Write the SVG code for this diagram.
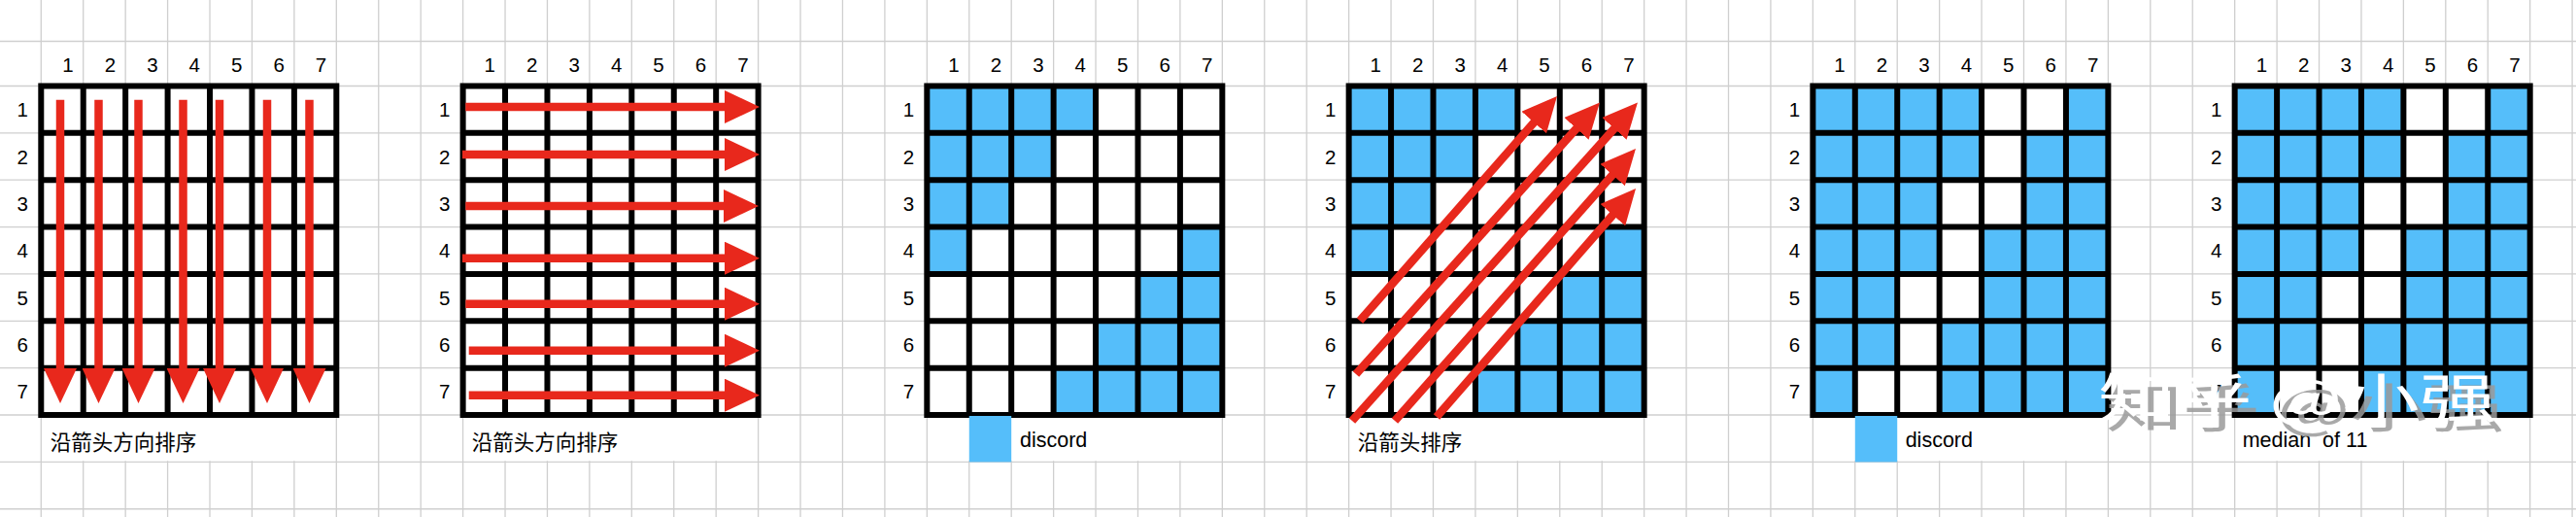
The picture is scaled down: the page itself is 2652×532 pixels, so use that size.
<svg xmlns="http://www.w3.org/2000/svg" xmlns:xlink="http://www.w3.org/1999/xlink" width="2652" height="532" viewBox="0 0 2652 532">
<style>
.bg{stroke:#cfcfcf;stroke-width:1.3;fill:none}
.frame{stroke:#000;stroke-width:6;fill:none;stroke-linecap:square}
.blue{fill:#55BEFA}
.white{fill:#fff}
.num{font-family:"Liberation Sans",Arial,sans-serif;font-size:20.5px;fill:#000;text-anchor:middle}
.lbl{font-family:"Liberation Sans","Noto Sans CJK SC",sans-serif;font-size:21.5px;fill:#000}
.en{font-family:"Liberation Sans",Arial,sans-serif;font-size:21.5px;fill:#000;white-space:pre}
.arr{stroke:#E8281C;stroke-width:8.5;fill:none;marker-end:url(#ah)}
.wm{font-family:"Noto Sans CJK SC",sans-serif;font-size:54px;fill:#fff;filter:url(#sh)}
</style>
<defs>
<marker id="ah" markerUnits="userSpaceOnUse" markerWidth="36" markerHeight="34" viewBox="0 0 36 34" refX="16" refY="17" orient="auto">
<path d="M0 0L36 17L0 34z" fill="#E8281C"/>
</marker>
<filter id="sh" x="-10%" y="-30%" width="130%" height="170%">
<feDropShadow dx="8" dy="10" stdDeviation="0.6" flood-color="#9a9a9a" flood-opacity="0.85"/>
</filter>
<path id="frame" class="frame" d="M0 88.5V427.02M43.43 88.5V427.02M86.86 88.5V427.02M130.29 88.5V427.02M173.72 88.5V427.02M217.15 88.5V427.02M260.58 88.5V427.02M304.01 88.5V427.02M0 88.5H304.01M0 136.86H304.01M0 185.22H304.01M0 233.58H304.01M0 281.94H304.01M0 330.3H304.01M0 378.66H304.01M0 427.02H304.01"/>
<rect id="box" class="white" x="1.2" y="430" width="301.6" height="44.2"/>
</defs>

<g id="background">
<rect width="2652" height="532" fill="#fff"/>
<path class="bg" d="M42.3 0V532M85.73 0V532M129.16 0V532M172.59 0V532M216.02 0V532M259.45 0V532M302.88 0V532M346.31 0V532M389.74 0V532M433.17 0V532M476.6 0V532M520.03 0V532M563.46 0V532M606.89 0V532M650.32 0V532M693.75 0V532M737.18 0V532M780.61 0V532M824.04 0V532M867.47 0V532M910.9 0V532M954.33 0V532M997.76 0V532M1041.19 0V532M1084.62 0V532M1128.05 0V532M1171.48 0V532M1214.91 0V532M1258.34 0V532M1301.77 0V532M1345.2 0V532M1388.63 0V532M1432.06 0V532M1475.49 0V532M1518.92 0V532M1562.35 0V532M1605.78 0V532M1649.21 0V532M1692.64 0V532M1736.07 0V532M1779.5 0V532M1822.93 0V532M1866.36 0V532M1909.79 0V532M1953.22 0V532M1996.65 0V532M2040.08 0V532M2083.51 0V532M2126.94 0V532M2170.37 0V532M2213.8 0V532M2257.23 0V532M2300.66 0V532M2344.09 0V532M2387.52 0V532M2430.95 0V532M2474.38 0V532M2517.81 0V532M2561.24 0V532M2604.67 0V532M2648.1 0V532M0 42.5H2652M0 88.5H2652M0 136.86H2652M0 185.22H2652M0 233.58H2652M0 281.94H2652M0 330.3H2652M0 378.66H2652M0 427.02H2652M0 475.38H2652M0 523.74H2652"/>
</g>

<g id="grid1" transform="translate(42.3,0)">
<use xlink:href="#box" href="#box"/>
<rect class="white" x="0" y="88.5" width="304.01" height="338.52"/>
<use xlink:href="#frame" href="#frame"/>
<text class="num" x="27.7" y="74">1</text><text class="num" x="71.13" y="74">2</text><text class="num" x="114.56" y="74">3</text><text class="num" x="157.99" y="74">4</text><text class="num" x="201.42" y="74">5</text><text class="num" x="244.85" y="74">6</text><text class="num" x="288.28" y="74">7</text>
<text class="num" x="-19" y="120.2">1</text><text class="num" x="-19" y="168.5">2</text><text class="num" x="-19" y="216.9">3</text><text class="num" x="-19" y="265.3">4</text><text class="num" x="-19" y="313.6">5</text><text class="num" x="-19" y="362">6</text><text class="num" x="-19" y="410.3">7</text>
<text class="lbl" x="9.4" y="463">沿箭头方向排序</text>
</g>

<g id="grid2" transform="translate(476.6,0)">
<use xlink:href="#box" href="#box"/>
<rect class="white" x="0" y="88.5" width="304.01" height="338.52"/>
<use xlink:href="#frame" href="#frame"/>
<text class="num" x="27.7" y="74">1</text><text class="num" x="71.13" y="74">2</text><text class="num" x="114.56" y="74">3</text><text class="num" x="157.99" y="74">4</text><text class="num" x="201.42" y="74">5</text><text class="num" x="244.85" y="74">6</text><text class="num" x="288.28" y="74">7</text>
<text class="num" x="-19" y="120.2">1</text><text class="num" x="-19" y="168.5">2</text><text class="num" x="-19" y="216.9">3</text><text class="num" x="-19" y="265.3">4</text><text class="num" x="-19" y="313.6">5</text><text class="num" x="-19" y="362">6</text><text class="num" x="-19" y="410.3">7</text>
<text class="lbl" x="9.1" y="463">沿箭头方向排序</text>
</g>

<g id="grid3" transform="translate(954.33,0)">
<use xlink:href="#box" href="#box"/>
<rect class="white" x="0" y="88.5" width="304.01" height="338.52"/>
<rect class="blue" x="0" y="88.5" width="173.72" height="48.36"/>
<rect class="blue" x="0" y="136.86" width="130.29" height="48.36"/>
<rect class="blue" x="0" y="185.22" width="86.86" height="48.36"/>
<rect class="blue" x="0" y="233.58" width="43.43" height="48.36"/>
<rect class="blue" x="260.58" y="233.58" width="43.43" height="48.36"/>
<rect class="blue" x="217.15" y="281.94" width="86.86" height="48.36"/>
<rect class="blue" x="173.72" y="330.3" width="130.29" height="48.36"/>
<rect class="blue" x="130.29" y="378.66" width="173.72" height="48.36"/>
<use xlink:href="#frame" href="#frame"/>
<text class="num" x="27.7" y="74">1</text><text class="num" x="71.13" y="74">2</text><text class="num" x="114.56" y="74">3</text><text class="num" x="157.99" y="74">4</text><text class="num" x="201.42" y="74">5</text><text class="num" x="244.85" y="74">6</text><text class="num" x="288.28" y="74">7</text>
<text class="num" x="-19" y="120.2">1</text><text class="num" x="-19" y="168.5">2</text><text class="num" x="-19" y="216.9">3</text><text class="num" x="-19" y="265.3">4</text><text class="num" x="-19" y="313.6">5</text><text class="num" x="-19" y="362">6</text><text class="num" x="-19" y="410.3">7</text>
<rect class="blue" x="43.43" y="428" width="43.43" height="47.4"/>
<text class="en" x="95.7" y="460">discord</text>
</g>

<g id="grid4" transform="translate(1388.63,0)">
<use xlink:href="#box" href="#box"/>
<rect class="white" x="0" y="88.5" width="304.01" height="338.52"/>
<rect class="blue" x="0" y="88.5" width="173.72" height="48.36"/>
<rect class="blue" x="0" y="136.86" width="130.29" height="48.36"/>
<rect class="blue" x="0" y="185.22" width="86.86" height="48.36"/>
<rect class="blue" x="0" y="233.58" width="43.43" height="48.36"/>
<rect class="blue" x="260.58" y="233.58" width="43.43" height="48.36"/>
<rect class="blue" x="217.15" y="281.94" width="86.86" height="48.36"/>
<rect class="blue" x="173.72" y="330.3" width="130.29" height="48.36"/>
<rect class="blue" x="130.29" y="378.66" width="173.72" height="48.36"/>
<use xlink:href="#frame" href="#frame"/>
<text class="num" x="27.7" y="74">1</text><text class="num" x="71.13" y="74">2</text><text class="num" x="114.56" y="74">3</text><text class="num" x="157.99" y="74">4</text><text class="num" x="201.42" y="74">5</text><text class="num" x="244.85" y="74">6</text><text class="num" x="288.28" y="74">7</text>
<text class="num" x="-19" y="120.2">1</text><text class="num" x="-19" y="168.5">2</text><text class="num" x="-19" y="216.9">3</text><text class="num" x="-19" y="265.3">4</text><text class="num" x="-19" y="313.6">5</text><text class="num" x="-19" y="362">6</text><text class="num" x="-19" y="410.3">7</text>
<text class="lbl" x="9.1" y="463">沿箭头排序</text>
</g>

<g id="grid5" transform="translate(1866.36,0)">
<use xlink:href="#box" href="#box"/>
<rect class="blue" x="0" y="88.5" width="304.01" height="338.52"/>
<rect class="white" x="173.72" y="88.5" width="86.86" height="48.36"/>
<rect class="white" x="173.72" y="136.86" width="43.43" height="48.36"/>
<rect class="white" x="130.29" y="185.22" width="86.86" height="48.36"/>
<rect class="white" x="130.29" y="233.58" width="43.43" height="48.36"/>
<rect class="white" x="86.86" y="281.94" width="86.86" height="48.36"/>
<rect class="white" x="86.86" y="330.3" width="43.43" height="48.36"/>
<rect class="white" x="43.43" y="378.66" width="86.86" height="48.36"/>
<use xlink:href="#frame" href="#frame"/>
<text class="num" x="27.7" y="74">1</text><text class="num" x="71.13" y="74">2</text><text class="num" x="114.56" y="74">3</text><text class="num" x="157.99" y="74">4</text><text class="num" x="201.42" y="74">5</text><text class="num" x="244.85" y="74">6</text><text class="num" x="288.28" y="74">7</text>
<text class="num" x="-19" y="120.2">1</text><text class="num" x="-19" y="168.5">2</text><text class="num" x="-19" y="216.9">3</text><text class="num" x="-19" y="265.3">4</text><text class="num" x="-19" y="313.6">5</text><text class="num" x="-19" y="362">6</text><text class="num" x="-19" y="410.3">7</text>
<rect class="blue" x="43.43" y="428" width="43.43" height="47.4"/>
<text class="en" x="95.3" y="460">discord</text>
</g>

<g id="grid6" transform="translate(2300.66,0)">
<use xlink:href="#box" href="#box"/>
<rect class="blue" x="0" y="88.5" width="304.01" height="338.52"/>
<rect class="white" x="173.72" y="88.5" width="86.86" height="48.36"/>
<rect class="white" x="173.72" y="136.86" width="43.43" height="48.36"/>
<rect class="white" x="130.29" y="185.22" width="86.86" height="48.36"/>
<rect class="white" x="130.29" y="233.58" width="43.43" height="48.36"/>
<rect class="white" x="86.86" y="281.94" width="86.86" height="48.36"/>
<rect class="white" x="86.86" y="330.3" width="43.43" height="48.36"/>
<rect class="white" x="43.43" y="378.66" width="86.86" height="48.36"/>
<use xlink:href="#frame" href="#frame"/>
<text class="num" x="27.7" y="74">1</text><text class="num" x="71.13" y="74">2</text><text class="num" x="114.56" y="74">3</text><text class="num" x="157.99" y="74">4</text><text class="num" x="201.42" y="74">5</text><text class="num" x="244.85" y="74">6</text><text class="num" x="288.28" y="74">7</text>
<text class="num" x="-19" y="120.2">1</text><text class="num" x="-19" y="168.5">2</text><text class="num" x="-19" y="216.9">3</text><text class="num" x="-19" y="265.3">4</text><text class="num" x="-19" y="313.6">5</text><text class="num" x="-19" y="362">6</text><text class="num" x="-19" y="410.3">7</text>
<text class="en" x="8" y="460">median  of 11</text>
</g>

<g id="arrows">
<path class="arr" d="M62 102.7V395"/>
<path class="arr" d="M101.5 102.7V395"/>
<path class="arr" d="M142.5 102.7V395"/>
<path class="arr" d="M188.5 102.7V395"/>
<path class="arr" d="M226 102.7V395"/>
<path class="arr" d="M275 102.7V395"/>
<path class="arr" d="M318.5 102.7V395"/>
<path class="arr" d="M479.3 110H762"/>
<path class="arr" d="M476 159H762"/>
<path class="arr" d="M479.3 212H761"/>
<path class="arr" d="M476 265.7H762"/>
<path class="arr" d="M479.3 312.7H762"/>
<path class="arr" d="M482.7 360.7H762"/>
<path class="arr" d="M482.7 406.7H762"/>
<path class="arr" d="M1400 330L1589.8 114"/>
<path class="arr" d="M1396 385L1633.6 120.4"/>
<path class="arr" d="M1392 433L1672.6 120.4"/>
<path class="arr" d="M1436 433L1670.7 168"/>
<path class="arr" d="M1479 429L1670.9 209.1"/>
</g>

<g id="watermark">
<text class="wm" x="2160" y="430" textLength="410" lengthAdjust="spacingAndGlyphs">知乎 @小强</text>
</g>
</svg>
